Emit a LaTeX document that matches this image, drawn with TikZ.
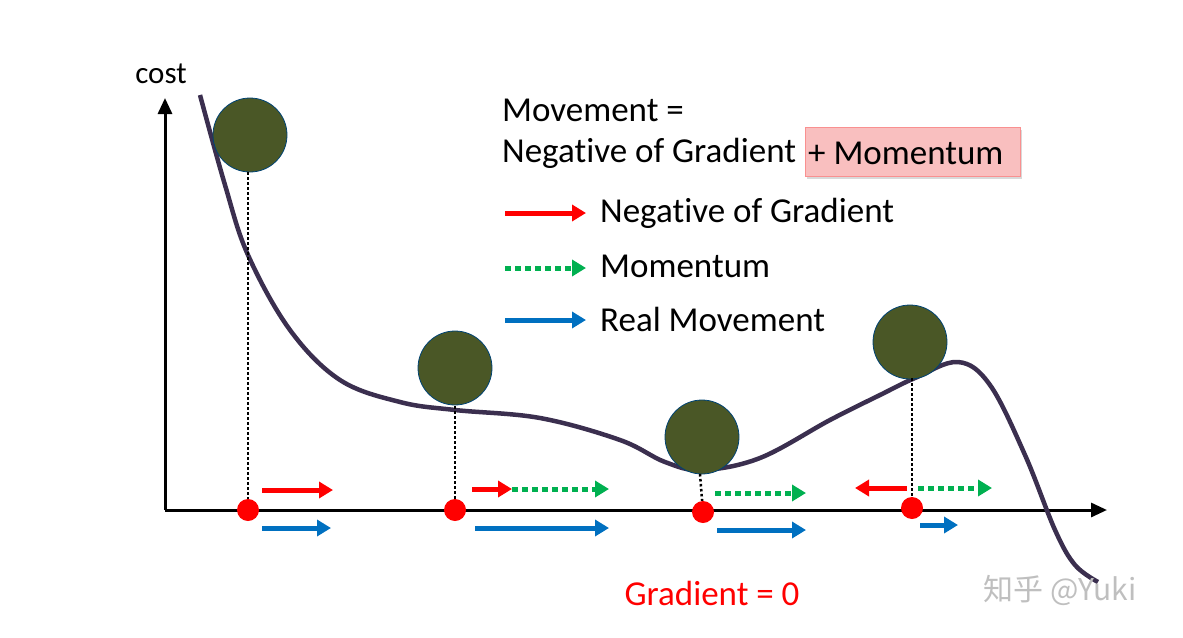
\documentclass[tikz,border=0pt]{standalone}
\usepackage{fontspec}
\setmainfont{Carlito}[Ligatures=NoCommon]
\newfontfamily\cjk{Noto Sans CJK SC}
\usetikzlibrary{arrows.meta,shadows}
\definecolor{ball}{HTML}{4A5726}
\definecolor{rd}{HTML}{FF0000}
\definecolor{gr}{HTML}{00B050}
\definecolor{bl}{HTML}{0070C0}
\definecolor{curvec}{HTML}{3B2F4F}
\definecolor{pinkbox}{HTML}{F8B4B4}
\tikzset{
  arr/.style={line width=5pt,-{Triangle[length=14pt,width=16pt]}},
  ra/.style={arr,rd},
  ga/.style={arr,gr,dash pattern=on 6pt off 4pt},
  ba/.style={arr,bl},
  ballst/.style={circle,fill=ball,draw=bl!60!black,line width=0.8pt,minimum size=74pt,inner sep=0pt},
  dotst/.style={circle,fill=rd,minimum size=22pt,inner sep=0pt},
  vdot/.style={black,line width=2.5pt,dash pattern=on 2.5pt off 2.5pt},
  lbl/.style={font=\fontsize{35}{37}\selectfont,anchor=west,inner sep=0pt}
}
\begin{document}
\begin{tikzpicture}[x=1pt,y=-1pt]
\useasboundingbox (0,0) rectangle (1183,637);
% axes
\coordinate (o) at (165,510);
\coordinate (ytop) at (165,98);
\coordinate (xend) at (1107,510);
\draw[line width=3pt,-{Triangle[length=16pt,width=14pt]}] (o) -- (ytop);
\draw[line width=3pt,-{Triangle[length=16pt,width=14pt]}] (o) -- (xend);
\node[font=\fontsize{31}{33}\selectfont] (cost) at (161,74) {cost};
% curve
\draw[curvec,line width=4.5pt] plot[smooth,tension=0.6] coordinates {
(200,95) (225,185) (248,255) (290,330) (340,380) (400,402) (455,410) (540,418)
(620,440) (665,462) (702,470) (760,458) (830,420) (880,395) (915,378) (958,362)
(990,385) (1025,455) (1055,530) (1075,565) (1098,582)};
% balls
\node[ballst] (b1) at (250,135) {};
\node[ballst] (b2) at (455,368) {};
\node[ballst] (b3) at (702,437) {};
\node[ballst] (b4) at (910,342) {};
% red dots
\node[dotst] (d1) at (248,510) {};
\node[dotst] (d2) at (455,510) {};
\node[dotst] (d3) at (703,512) {};
\node[dotst] (d4) at (912,508) {};
% dotted verticals
\coordinate (t1) at (248,172); \coordinate (t2) at (455,406);
\coordinate (t3) at (700,474); \coordinate (t4) at (912,378);
\draw[vdot] (t1) -- (d1);
\draw[vdot] (t2) -- (d2);
\draw[vdot] (t3) -- (d3);
\draw[vdot] (t4) -- (d4);
% arrows at points
\draw[ra] (262,490) -- (333,490);
\draw[ba] (262,528) -- (331,528);
\draw[ra] (472,489) -- (512,489);
\draw[ga] (512,489) -- (609,489);
\draw[ba] (475,528) -- (609,528);
\draw[ga] (715,493) -- (806,493);
\draw[ba] (717,530) -- (806,530);
\draw[ra] (907,488) -- (855,488);
\draw[ga] (918,488) -- (992,488);
\draw[ba] (920,525) -- (958,525);
% legend
\node[lbl] (m1) at (502,110) {Movement =};
\node[lbl] (m2) at (502,153) {Negative of Gradient};
\node[draw=pinkbox!80!red,fill=pinkbox!85!white,minimum width=215pt,minimum height=49pt,anchor=west,inner sep=0pt,drop shadow={shadow xshift=2pt,shadow yshift=-2pt,opacity=0.3}] (pb) at (805,152) {};
\node[lbl] (m3) at (808,153) {+ Momentum};
\coordinate (la1) at (505,213); \coordinate (la2) at (586,213);
\coordinate (lb1) at (505,268); \coordinate (lb2) at (586,268);
\coordinate (lc1) at (505,320); \coordinate (lc2) at (586,320);
\draw[ra] (la1) -- (la2);
\draw[ga] (lb1) -- (lb2);
\draw[ba] (lc1) -- (lc2);
\node[lbl] (l1) at (600,213) {Negative of Gradient};
\node[lbl] (l2) at (600,266) {Momentum};
\node[lbl] (l3) at (600,319) {Real Movement};
\node[lbl,text=rd,anchor=center] (g0) at (712,593) {Gradient = 0};
\node[font=\fontsize{30}{32}\selectfont,text=black!25] (wm) at (1060,590) {\cjk 知乎 @Yuki};
\end{tikzpicture}
\end{document}
